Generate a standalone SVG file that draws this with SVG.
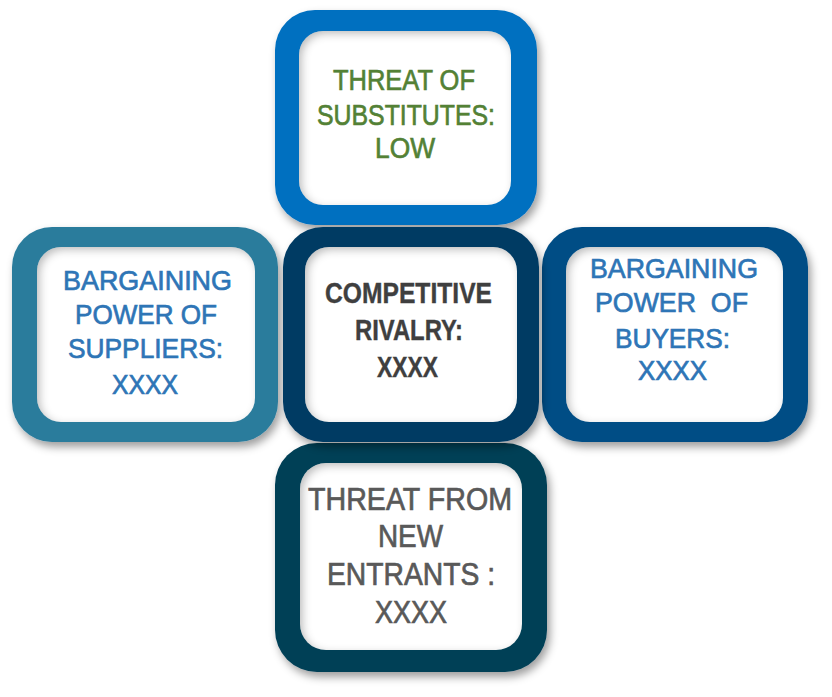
<svg xmlns="http://www.w3.org/2000/svg" width="832" height="697" viewBox="0 0 832 697">
<defs>
<filter id="drop" x="-10%" y="-10%" width="125%" height="125%">
<feDropShadow dx="3" dy="5" stdDeviation="4" flood-color="#000" flood-opacity="0.38"/>
</filter>
<filter id="inset" x="-10%" y="-10%" width="120%" height="120%">
<feFlood flood-color="#000" flood-opacity="0.5"/>
<feComposite in2="SourceAlpha" operator="out"/>
<feGaussianBlur stdDeviation="4"/>
<feOffset dx="3" dy="3"/>
<feComposite in2="SourceAlpha" operator="in" result="sh"/>
<feMerge><feMergeNode in="SourceGraphic"/><feMergeNode in="sh"/></feMerge>
</filter>
</defs>
<style>
.outer{filter:url(#drop)}
.inner{fill:#ffffff;filter:url(#inset)}
text{font-family:"Liberation Sans",Arial,sans-serif;text-anchor:middle}
.g{fill:#538135;stroke:#538135;stroke-width:0.7px;font-size:30px}
.b{fill:#2E75B6;stroke:#2E75B6;stroke-width:0.7px;font-size:28px}
.c{fill:#3F3F3F;stroke:#3F3F3F;stroke-width:0.4px;font-size:29px;font-weight:bold}
.d{fill:#595959;stroke:#595959;stroke-width:0.7px;font-size:31px}
</style>
<rect width="832" height="697" fill="#ffffff"/>
<g id="connectors"/>
<g id="substitutes">
<rect class="outer" x="275" y="10" width="262" height="215" rx="40" fill="#0070C0"/>
<rect class="inner" x="299" y="31" width="212" height="174" rx="24"/>
<text class="g" x="404" y="90" textLength="142" lengthAdjust="spacingAndGlyphs">THREAT OF</text>
<text class="g" x="406" y="125" textLength="178" lengthAdjust="spacingAndGlyphs">SUBSTITUTES:</text>
<text class="g" x="405" y="158" textLength="60" lengthAdjust="spacingAndGlyphs">LOW</text>
</g>
<g id="suppliers">
<rect class="outer" x="12" y="227" width="266" height="215" rx="40" fill="#2C7C9C"/>
<rect class="inner" x="37" y="247" width="218" height="175" rx="24"/>
<text class="b" x="147.5" y="290" textLength="169" lengthAdjust="spacingAndGlyphs">BARGAINING</text>
<text class="b" x="146" y="324" textLength="142" lengthAdjust="spacingAndGlyphs">POWER OF</text>
<text class="b" x="145.5" y="358" textLength="155" lengthAdjust="spacingAndGlyphs">SUPPLIERS:</text>
<text class="b" x="145" y="394" textLength="66" lengthAdjust="spacingAndGlyphs">XXXX</text>
</g>
<g id="buyers">
<rect class="outer" x="542" y="227" width="266" height="215" rx="40" fill="#024E85"/>
<rect class="inner" x="566" y="247" width="217" height="175" rx="24"/>
<text class="b" x="674" y="278" textLength="168" lengthAdjust="spacingAndGlyphs">BARGAINING</text>
<text class="b" x="671.5" y="312" textLength="153" lengthAdjust="spacingAndGlyphs" xml:space="preserve">POWER  OF</text>
<text class="b" x="672.5" y="348" textLength="115" lengthAdjust="spacingAndGlyphs">BUYERS:</text>
<text class="b" x="672.5" y="380" textLength="69" lengthAdjust="spacingAndGlyphs">XXXX</text>
</g>
<g id="new-entrants">
<rect class="outer" x="275" y="443" width="272" height="229" rx="42" fill="#023F56"/>
<rect class="inner" x="300" y="463" width="222" height="187" rx="26"/>
<text class="d" x="410" y="510" textLength="204" lengthAdjust="spacingAndGlyphs">THREAT FROM</text>
<text class="d" x="410.5" y="547" textLength="65" lengthAdjust="spacingAndGlyphs">NEW</text>
<text class="d" x="411" y="585" textLength="168" lengthAdjust="spacingAndGlyphs">ENTRANTS :</text>
<text class="d" x="411" y="623" textLength="72" lengthAdjust="spacingAndGlyphs">XXXX</text>
</g>
<g id="rivalry">
<rect class="outer" x="283" y="227" width="256" height="215" rx="40" fill="#033B63"/>
<rect class="inner" x="305" y="247" width="212" height="175" rx="24"/>
<text class="c" x="408.5" y="303" textLength="167" lengthAdjust="spacingAndGlyphs">COMPETITIVE</text>
<text class="c" x="409" y="340" textLength="108" lengthAdjust="spacingAndGlyphs">RIVALRY:</text>
<text class="c" x="407.5" y="377" textLength="61" lengthAdjust="spacingAndGlyphs">XXXX</text>
</g>
</svg>
